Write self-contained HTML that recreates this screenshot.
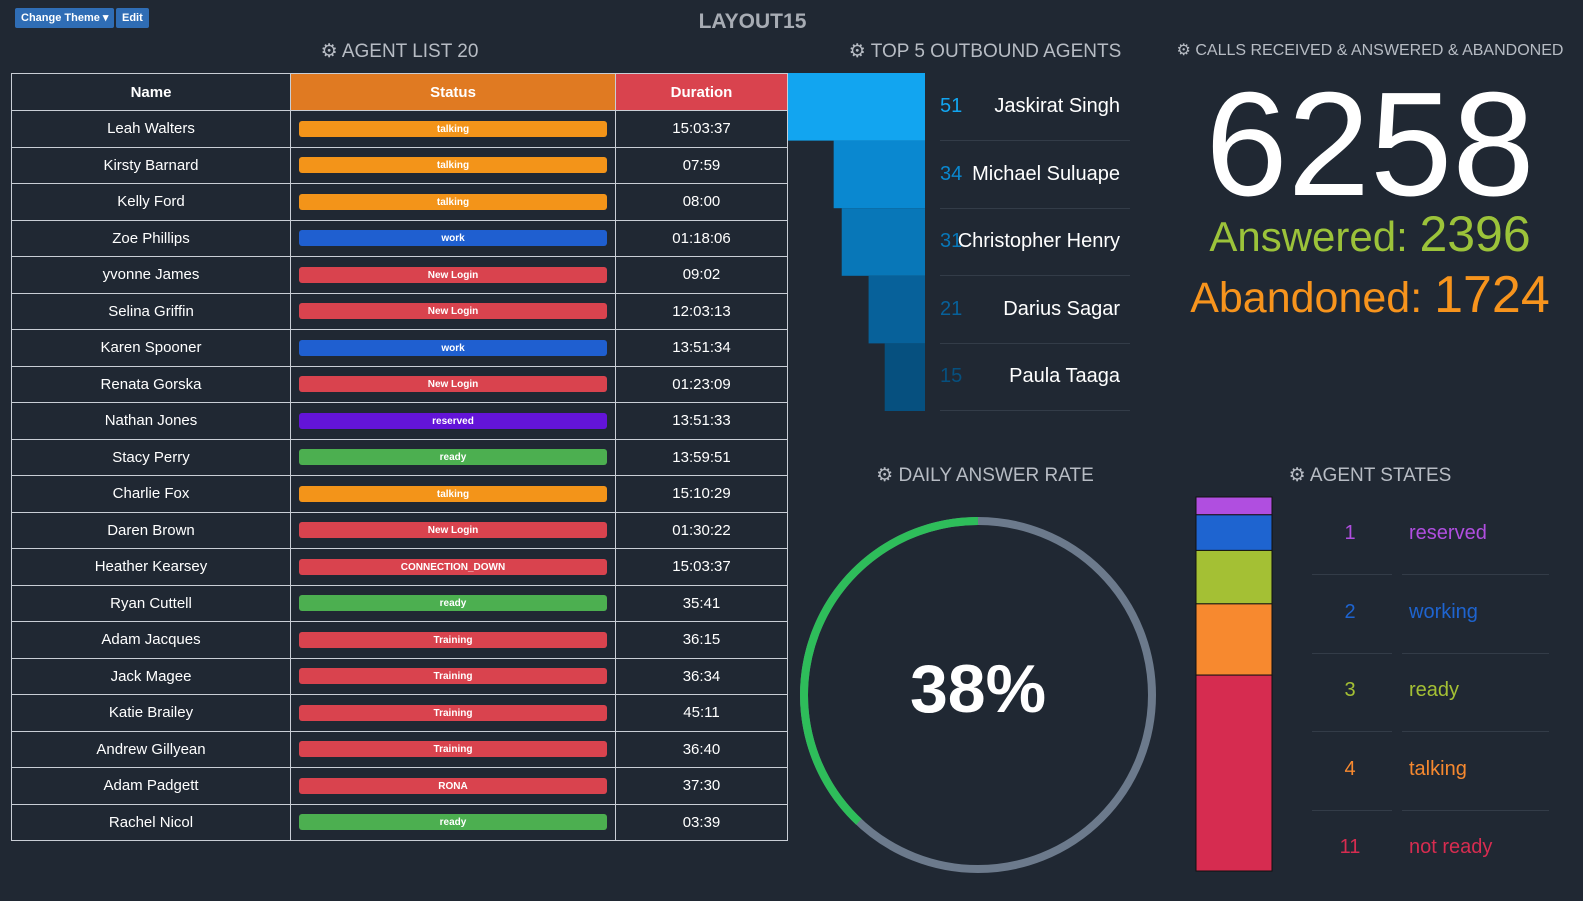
<!DOCTYPE html>
<html><head><meta charset="utf-8"><style>
body{margin:0;width:1583px;height:901px;background:#202833;font-family:"Liberation Sans",sans-serif;color:#fff;position:relative;overflow:hidden}
.abs{position:absolute}
.btn{background:#2f6db5;color:#fff;font-size:11px;font-weight:bold;padding:3px 6px;border-radius:2px;top:8px;height:14px;line-height:14px}
.title{color:#b7bcc4;font-size:19px;text-align:center}
table{border-collapse:collapse;position:absolute;left:11px;top:73px;width:777px}
td,th{border:1px solid #c9ced6;text-align:center;font-size:15px;height:35.5px;padding:0}
th{font-weight:bold;height:36px}
.badge{display:block;margin:0 8px;height:16px;border-radius:3px;font-size:10px;font-weight:bold;line-height:17px}
.fn{position:absolute;left:940px;width:190px;height:67px;border-bottom:1px solid #333c48;font-size:20px}
.fn span{position:absolute;top:22px}
.st{position:absolute;font-size:20px}
.sl{position:absolute;height:1px;background:#333c48}
</style></head><body>
<div class="abs btn" style="left:15px">Change Theme ▾</div>
<div class="abs btn" style="left:116px">Edit</div>
<div class="abs" style="left:0;width:1505px;top:10px;text-align:center;font-size:21px;font-weight:bold;color:#a7acb4">LAYOUT15</div>
<div class="abs title" style="left:11px;width:777px;top:40px">⚙ AGENT LIST 20</div>
<div class="abs title" style="left:790px;width:390px;top:40px">⚙ TOP 5 OUTBOUND AGENTS</div>
<div class="abs title" style="left:1175px;width:390px;top:40px;font-size:16px">⚙ CALLS RECEIVED &amp; ANSWERED &amp; ABANDONED</div>
<div class="abs title" style="left:800px;width:370px;top:464px">⚙ DAILY ANSWER RATE</div>
<div class="abs title" style="left:1200px;width:340px;top:464px">⚙ AGENT STATES</div>

<table><thead><tr>
<th style="width:278px">Name</th><th style="width:324px;background:#e07a22">Status</th><th style="background:#d9434e">Duration</th></tr></thead><tbody id="tb"></tbody></table>

<div class="abs" style="left:1175px;width:390px;top:70px;text-align:center;font-size:148px;line-height:150px">6258</div>
<div class="abs" style="left:1175px;width:390px;top:205px;text-align:center;font-size:42px;color:#9cc33a">Answered: <span style="font-size:50px">2396</span></div>
<div class="abs" style="left:1175px;width:390px;top:265px;text-align:center;font-size:43px;color:#f7941d">Abandoned: <span style="font-size:52px">1724</span></div>

<svg class="abs" style="left:0;top:0" width="1583" height="901" id="sv"></svg>
<div class="abs" style="left:878px;width:200px;top:650px;text-align:center;font-size:68px;font-weight:bold">38%</div>

<script>
const names=["Leah Walters","Kirsty Barnard","Kelly Ford","Zoe Phillips","yvonne James","Selina Griffin","Karen Spooner","Renata Gorska","Nathan Jones","Stacy Perry","Charlie Fox","Daren Brown","Heather Kearsey","Ryan Cuttell","Adam Jacques","Jack Magee","Katie Brailey","Andrew Gillyean","Adam Padgett","Rachel Nicol"];
const statuses=["talking","talking","talking","work","New Login","New Login","work","New Login","reserved","ready","talking","New Login","CONNECTION_DOWN","ready","Training","Training","Training","Training","RONA","ready"];
const durations=["15:03:37","07:59","08:00","01:18:06","09:02","12:03:13","13:51:34","01:23:09","13:51:33","13:59:51","15:10:29","01:30:22","15:03:37","35:41","36:15","36:34","45:11","36:40","37:30","03:39"];
const sc={"talking":"#f39419","work":"#1f5fd0","reserved":"#6314d8","ready":"#4caf50"};
const tb=document.getElementById('tb');
names.forEach((n,i)=>{const tr=document.createElement('tr');


tr.innerHTML=`<td>${n}</td><td><span class="badge" style="background:${sc[statuses[i]]||'#d9434e'}">${statuses[i]}</span></td><td>${durations[i]}</td>`;tb.appendChild(tr);});

const NS="http://www.w3.org/2000/svg";const sv=document.getElementById('sv');
function mk(t,a){const e=document.createElementNS(NS,t);for(const k in a)e.setAttribute(k,a[k]);sv.appendChild(e);return e;}
// funnel
const topNames=["Jaskirat Singh","Michael Suluape","Christopher Henry","Darius Sagar","Paula Taaga"];
const topValues=[51,34,31,21,15];
const topColors=["#12a5f0","#0a88d0","#0877b8","#07619a","#06507f"];
const fx=v=>v*137/51;
topValues.forEach((v,i)=>{const r=mk('rect',{x:925-fx(v),y:73+i*67.6,width:fx(v),height:67.6,fill:topColors[i]});


const d=document.createElement('div');d.className='fn';d.style.top=(73+i*67.6)+'px';


d.innerHTML=`<span style="left:0;color:${topColors[i]}">${v}</span><span style="right:10px">${topNames[i]}</span>`;document.body.appendChild(d);});
// donut
const rate=38;const cx=978,cy=695,R=174;
mk('circle',{cx,cy,r:R,fill:'none',stroke:'#6c7a8c','stroke-width':8});
const a=rate/100*2*Math.PI;
const arc=mk('path',{d:`M${cx} ${cy-R} A${R} ${R} 0 ${rate>50?1:0} 0 ${cx-R*Math.sin(a)} ${cy-R*Math.cos(a)}`,fill:'none',stroke:'#2ebd5a','stroke-width':8});


// agent states
const stateNames=["reserved","working","ready","talking","not ready"];
const stateValues=[1,2,3,4,11];
const stateColors=["#b04ee0","#1e64d0","#a4c034","#f7892f","#d62c50"];
const total=stateValues.reduce((s,v)=>s+v,0);const sy=v=>v*374/total;
let y=497;
stateValues.forEach((v,i)=>{const r=mk('rect',{x:1196,y:y,width:76,height:sy(v),fill:stateColors[i],stroke:'#111','stroke-width':1});


y+=sy(v);
const ty=522+i*78.5;
const n=document.createElement('div');n.className='st';n.style.cssText=`left:1320px;width:60px;text-align:center;top:${ty}px;color:${stateColors[i]}`;n.textContent=v;


document.body.appendChild(n);
const l=document.createElement('div');l.className='st';l.style.cssText=`left:1409px;top:${ty}px;color:${stateColors[i]}`;l.textContent=stateNames[i];


document.body.appendChild(l);
if(i<4){const s1=document.createElement('div');s1.className='sl';s1.style.cssText=`left:1312px;width:80px;top:${ty+52}px`;document.body.appendChild(s1);
const s2=document.createElement('div');s2.className='sl';s2.style.cssText=`left:1402px;width:147px;top:${ty+52}px`;document.body.appendChild(s2);}
});
</script>
</body></html>
